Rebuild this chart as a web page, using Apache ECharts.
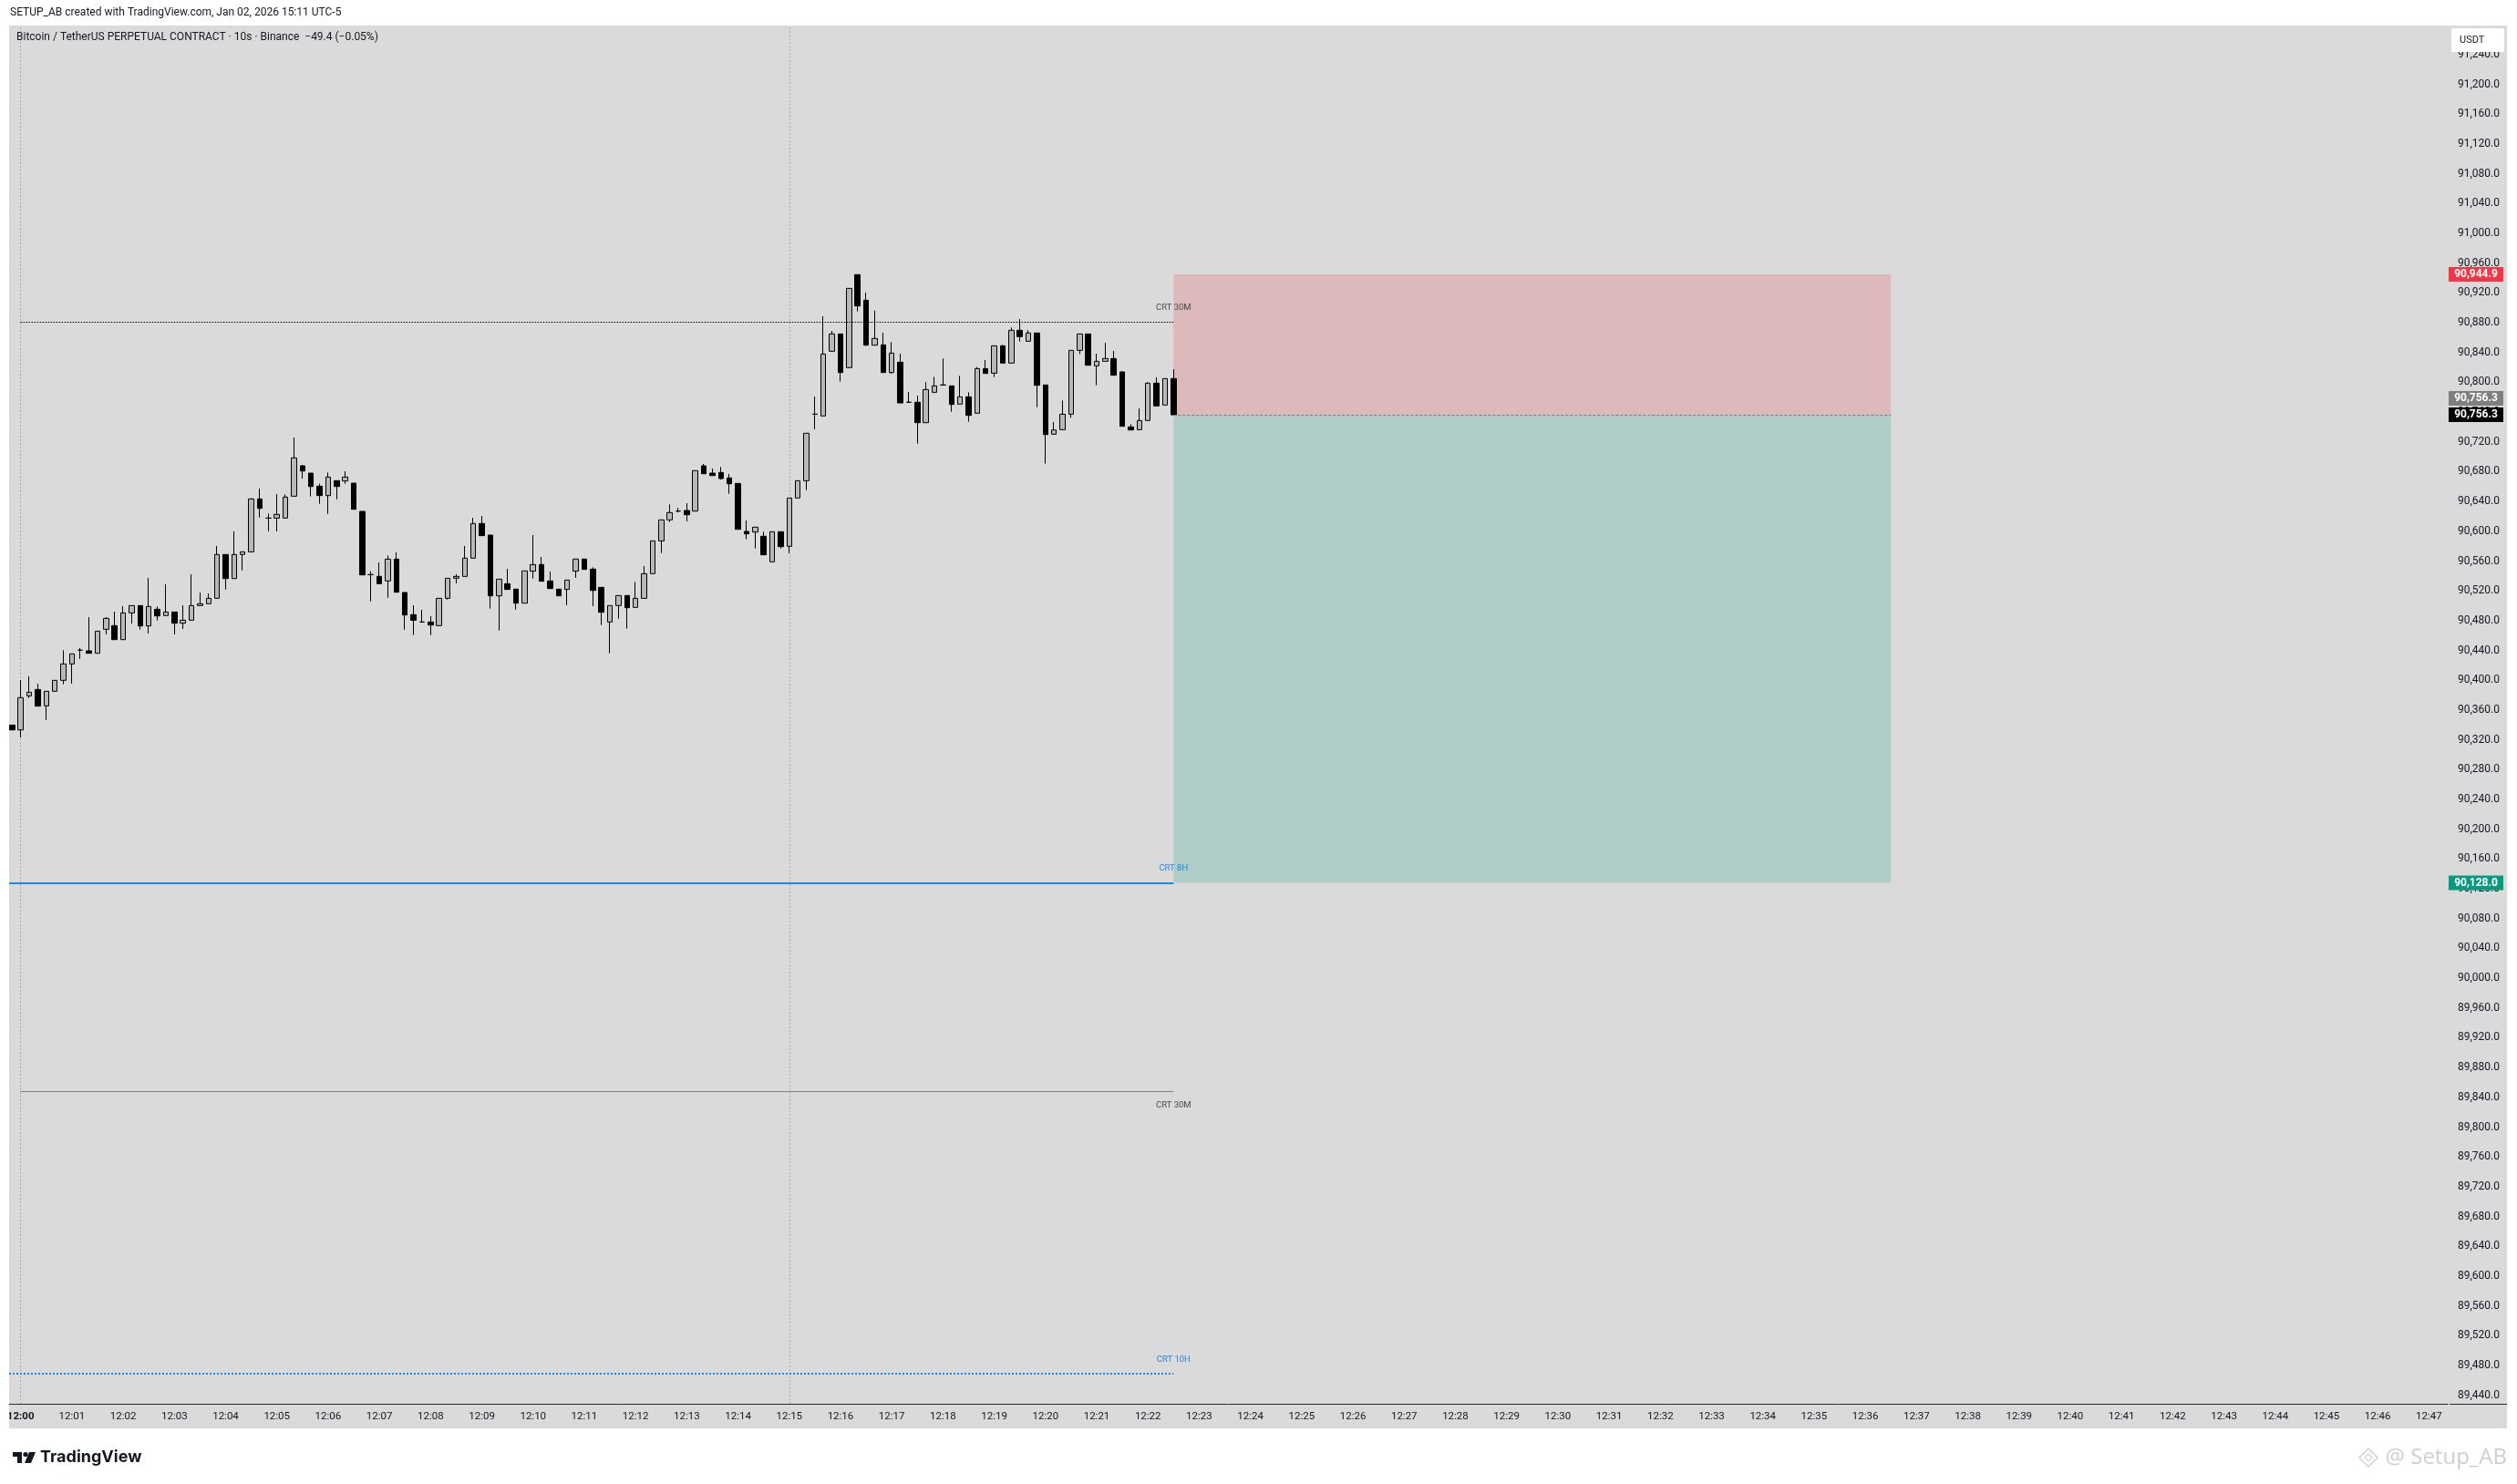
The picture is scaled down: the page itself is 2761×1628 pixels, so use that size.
<!DOCTYPE html>
<html><head><meta charset="utf-8">
<script src="https://cdn.jsdelivr.net/npm/echarts@6/dist/echarts.min.js"></script>
<style>html,body{margin:0;padding:0;background:#fff;overflow:hidden}#c{width:2761px;height:1628px}</style>
</head><body><div id="c"></div>
<script>
// ---- data (10-second candles, index 0 = 11:59:50) ----
const candleOpen = [90339.8,90333.3,90379.0,90387.6,90365.6,90385.2,90399.9,90421.9,90440.3,90439.5,
90436.2,90468.4,90473.3,90454.5,90490.4,90500.2,90472.9,90495.3,90486.8,90491.6,
90476.6,90480.6,90500.2,90502.7,90510.0,90568.8,90536.5,90568.8,90572.4,90643.4,
90617.7,90617.7,90617.7,90647.1,90687.9,90678.1,90660.5,90647.9,90667.9,90667.5,
90664.6,90626.7,90541.8,90539.4,90533.3,90562.6,90517.8,90488.0,90478.2,90478.2,
90473.3,90510.0,90537.0,90539.4,90563.9,90610.4,90594.9,90513.3,90529.6,90522.3,
90503.5,90546.4,90555.3,90533.3,90522.3,90521.9,90546.4,90562.7,90549.2,90524.7,
90478.2,90500.3,90513.7,90497.8,90510.0,90543.1,90587.1,90615.3,90627.1,90627.9,
90627.1,90687.9,90678.1,90678.9,90671.6,90664.2,90599.8,90599.0,90593.3,90559.0,
90599.4,90579.8,90644.7,90667.9,90757.2,90754.8,90841.7,90864.9,90819.7,90944.5,
90910.2,90849.8,90850.3,90813.1,90827.0,90773.2,90773.2,90745.8,90786.6,90796.4,
90795.2,90770.7,90780.5,90758.5,90818.4,90812.3,90849.0,90825.8,90869.8,90855.1,
90866.2,90796.4,90730.3,90736.4,90757.2,90842.9,90864.9,90822.1,90828.2,90831.9,
90814.0,90740.1,90736.4,90748.7,90798.9,90769.5,90805.0];
const candleClose = [90333.3,90376.6,90383.9,90365.2,90385.2,90399.9,90421.9,90435.4,90440.3,90436.2,
90465.9,90483.1,90454.5,90490.4,90500.2,90472.9,90499.0,90486.3,90491.6,90476.6,
90480.6,90500.2,90502.7,90510.0,90568.8,90536.5,90568.8,90572.4,90643.4,90630.8,
90617.7,90622.6,90645.9,90698.5,90680.9,90660.1,90647.9,90672.8,90660.1,90672.8,
90629.5,90541.4,90541.8,90529.6,90562.6,90518.2,90487.6,90480.6,90478.2,90474.1,
90510.0,90536.9,90539.4,90563.9,90610.4,90594.1,90513.3,90535.7,90521.9,90503.5,
90546.8,90555.3,90532.9,90523.1,90513.3,90534.5,90562.7,90548.8,90520.6,90491.3,
90500.3,90513.7,90497.4,90510.0,90543.1,90587.1,90615.3,90625.1,90627.1,90622.2,
90681.4,90677.3,90674.8,90670.8,90663.8,90602.6,90596.5,90605.5,90568.4,90599.4,
90579.4,90644.7,90667.9,90731.6,90757.2,90838.0,90864.9,90813.1,90926.1,90902.5,
90849.8,90858.8,90813.1,90839.2,90772.3,90773.2,90745.8,90790.3,90795.2,90796.4,
90770.3,90780.5,90755.6,90818.4,90811.9,90849.0,90825.8,90869.8,90861.3,90866.2,
90796.0,90729.9,90736.0,90757.2,90842.9,90864.9,90822.9,90828.2,90831.9,90809.5,
90740.9,90736.0,90748.7,90798.9,90768.3,90805.0,90756.3];
const candleLow = [90333.3,90323.2,90376.2,90365.2,90346.4,90385.2,90394.6,90395.4,90428.8,90436.2,
90436.2,90461.5,90454.5,90454.5,90476.1,90467.8,90462.7,90480.2,90486.8,90461.5,
90468.8,90480.6,90500.2,90502.7,90510.0,90521.8,90536.5,90547.5,90572.4,90618.5,
90599.8,90599.8,90617.7,90647.1,90670.7,90646.7,90636.9,90623.4,90643.0,90663.8,
90629.5,90541.4,90505.9,90529.6,90510.8,90518.2,90467.8,90460.7,90478.2,90460.7,
90473.3,90508.4,90530.0,90539.4,90563.9,90594.1,90496.2,90466.8,90521.9,90494.9,
90503.5,90536.6,90532.9,90523.1,90513.3,90500.7,90537.4,90548.8,90499.4,90474.1,
90436.2,90482.7,90469.3,90497.8,90510.0,90543.1,90570.8,90612.4,90625.5,90613.3,
90627.1,90677.3,90674.8,90669.5,90650.4,90602.6,90589.2,90576.9,90568.4,90559.0,
90576.9,90570.8,90644.7,90655.3,90736.9,90754.8,90841.7,90800.9,90819.7,90895.1,
90849.8,90849.8,90813.1,90811.5,90772.3,90773.2,90717.7,90745.8,90786.6,90796.4,
90760.5,90770.7,90747.1,90758.5,90811.9,90807.0,90825.8,90825.8,90854.7,90855.1,
90766.6,90690.7,90730.3,90736.4,90752.4,90838.0,90822.9,90796.0,90828.2,90809.5,
90740.9,90736.0,90736.4,90748.7,90768.3,90769.5,90756.3];
const candleHigh = [90339.8,90400.2,90405.2,90395.4,90385.2,90399.9,90440.3,90435.4,90443.1,90484.7,
90465.9,90484.7,90492.0,90499.4,90500.2,90500.2,90537.3,90499.0,90528.8,90491.6,
90500.6,90542.2,90517.8,90516.5,90580.2,90568.8,90599.8,90572.4,90644.2,90657.3,
90623.8,90649.9,90649.5,90725.8,90689.1,90678.1,90663.8,90678.9,90667.9,90680.5,
90664.6,90626.7,90546.3,90558.1,90567.5,90571.6,90517.8,90500.6,90494.5,90485.9,
90510.0,90536.9,90542.3,90580.2,90618.1,90620.6,90594.9,90535.7,90549.6,90522.3,
90546.8,90594.9,90565.5,90545.9,90522.3,90534.5,90562.7,90562.7,90551.7,90524.7,
90500.3,90513.7,90513.7,90532.1,90553.3,90587.1,90615.3,90636.1,90631.6,90637.7,
90681.4,90690.4,90684.2,90686.3,90676.9,90664.2,90614.5,90605.5,90599.4,90599.4,
90599.4,90644.7,90667.9,90731.6,90780.9,90888.6,90869.0,90864.9,90926.1,90944.9,
90920.4,90896.3,90866.6,90853.9,90838.4,90787.0,90782.1,90800.1,90807.4,90831.9,
90795.2,90808.6,90786.6,90820.5,90829.9,90849.0,90850.3,90873.5,90884.9,90869.8,
90866.2,90796.4,90746.6,90775.6,90842.9,90864.9,90864.9,90838.4,90853.1,90842.1,
90814.0,90743.8,90765.0,90800.1,90806.6,90805.0,90817.6];

const timeTickLabels = ['12:00','12:01','12:02','12:03','12:04','12:05','12:06','12:07','12:08','12:09',
'12:10','12:11','12:12','12:13','12:14','12:15','12:16','12:17','12:18','12:19','12:20','12:21','12:22',
'12:23','12:24','12:25','12:26','12:27','12:28','12:29','12:30','12:31','12:32','12:33','12:34','12:35',
'12:36','12:37','12:38','12:39','12:40','12:41','12:42','12:43','12:44','12:45','12:46','12:47'];
const priceTicks = [89440,89480,89520,89560,89600,89640,89680,89720,89760,89800,89840,89880,89920,89960,
90000,90040,90080,90120,90160,90200,90240,90280,90320,90360,90400,90440,90480,90520,90560,90600,90640,
90680,90720,90760,90800,90840,90880,90920,90960,91000,91040,91080,91120,91160,91200,91240];

const levelPrices = [90880.9, 90128.0, 89848.4, 89469.0];
const levelLabels = ['CRT 30M', 'CRT 8H', 'CRT 30M', 'CRT 10H'];
const levelStartIdx = [1, null, 1, null];   // null = from the left edge of the view
const sessionBreakIdx = [1, 91];            // 12:00 and 12:15
const stopPrice = 90944.9, entryPrice = 90756.3, targetPrice = 90128.0;
const positionStartIdx = 136, positionEndIdx = 220;
const lastPrice = 90756.3;

// ---- view ----
const X_MIN = -0.352, X_MAX = 285.2, Y_MIN = 89428.6, Y_MAX = 91279.0;
const FONT = 'Roboto, "Noto Sans", sans-serif';
const fmt = v => v.toLocaleString('en-US', {minimumFractionDigits: 1, maximumFractionDigits: 1});

const candles = candleOpen.map((o, i) => [i, o, candleClose[i], candleLow[i], candleHigh[i]]);
const tickIdx = timeTickLabels.map((_, k) => 1 + 6 * k);

const levelStyles = [
  {color: '#000000', type: [1.5, 1.5], width: 1, labelColor: '#4a4a4a', above: true},
  {color: '#1e88e5', type: 'solid', width: 2, labelColor: '#1e88e5', above: true},
  {color: '#808080', type: 'solid', width: 1, labelColor: '#4a4a4a', above: false},
  {color: '#1e88e5', type: [2, 2], width: 2, labelColor: '#1e88e5', above: true}
];

const levelLines = levelPrices.map((p, i) => [
  {coord: [levelStartIdx[i] == null ? X_MIN : levelStartIdx[i], p],
   lineStyle: {color: levelStyles[i].color, type: levelStyles[i].type, width: levelStyles[i].width}},
  {coord: [positionStartIdx, p]}
]);
levelLines.push([
  {coord: [positionStartIdx, entryPrice], lineStyle: {color: '#7d7d7d', type: [3, 2], width: 1}},
  {coord: [positionEndIdx, entryPrice]}
]);

const levelLabelPoints = levelPrices.map((p, i) => ({
  coord: [positionStartIdx, p],
  symbol: 'circle', symbolSize: 1, itemStyle: {color: 'rgba(0,0,0,0)'},
  label: {show: true, formatter: levelLabels[i], position: levelStyles[i].above ? 'top' : 'bottom',
          distance: 10, color: levelStyles[i].labelColor, fontSize: 9.5, fontFamily: FONT}
}));

const tagDefs = [
  {price: stopPrice, bg: '#f23645', shift: 0},
  {price: lastPrice, bg: '#7f7f7f', shift: -18},
  {price: lastPrice, bg: '#000000', shift: 0},
  {price: targetPrice, bg: '#089981', shift: 0}
];
const tagPoints = tagDefs.map(t => ({
  coord: [X_MAX, t.price],
  symbol: 'rect', symbolSize: [60, 16], symbolOffset: [31, t.shift],
  itemStyle: {color: t.bg},
  label: {show: true, position: 'inside', formatter: fmt(t.price), color: '#fff',
          fontWeight: 'bold', fontSize: 12, fontFamily: FONT}
}));

const chart = echarts.init(document.getElementById('c'), null, {renderer: 'canvas'});
chart.setOption({
  animation: false,
  backgroundColor: '#ffffff',
  grid: {left: 10, top: 28, width: 2675, height: 1512, containLabel: false},
  xAxis: {
    type: 'value', min: X_MIN, max: X_MAX,
    splitLine: {show: false}, axisTick: {show: false},
    axisLine: {show: true, lineStyle: {color: '#2a2a2a', width: 1}},
    axisLabel: {
      customValues: tickIdx, margin: 8, color: '#131722', fontSize: 11.5, fontFamily: FONT,
      formatter: v => { const k = Math.round((v - 1) / 6); return k === 0 ? '{b|' + timeTickLabels[k] + '}' : timeTickLabels[k]; },
      rich: {b: {fontWeight: 'bold', fontSize: 11.5, color: '#131722', fontFamily: FONT}}
    }
  },
  yAxis: {
    type: 'value', position: 'right', min: Y_MIN, max: Y_MAX,
    splitLine: {show: false}, axisTick: {show: false}, axisLine: {show: false},
    axisLabel: {customValues: priceTicks, formatter: v => fmt(v), align: 'right', margin: 57,
                color: '#131722', fontSize: 12, fontFamily: FONT}
  },
  graphic: [
    {type: 'rect', z: -10, shape: {x: 10, y: 28, width: 2740, height: 1539}, style: {fill: '#dadada'}},
    {type: 'rect', z: 20, shape: {x: 0, y: 1540.5, width: 10, height: 30}, style: {fill: '#ffffff'}},
    {type: 'text', z: 10, x: 11, y: 14, style: {text: 'SETUP_AB created with TradingView.com, Jan 02, 2026 15:11 UTC-5',
      fill: '#131722', font: '12px ' + FONT, verticalAlign: 'middle'}},
    {type: 'text', z: 10, x: 18, y: 41, style: {text: 'Bitcoin / TetherUS PERPETUAL CONTRACT · 10s · Binance  \u221249.4 (\u22120.05%)',
      fill: '#131722', font: '12px ' + FONT, verticalAlign: 'middle'}},
    {type: 'rect', z: 10, shape: {x: 2689, y: 31, width: 58, height: 26, r: 2}, style: {fill: '#ffffff'}},
    {type: 'text', z: 11, x: 2698, y: 44, style: {text: 'USDT', fill: '#131722', font: '11px ' + FONT, verticalAlign: 'middle'}},
    {type: 'line', z: 5, shape: {x1: 2687, y1: 1540.5, x2: 2750, y2: 1540.5}, style: {stroke: '#2a2a2a', lineWidth: 1}},
    // TradingView logo
    {type: 'rect', z: 10, shape: {x: 14, y: 1593, width: 10, height: 5}, style: {fill: '#131722'}},
    {type: 'rect', z: 10, shape: {x: 19, y: 1593, width: 5, height: 12}, style: {fill: '#131722'}},
    {type: 'circle', z: 10, shape: {cx: 28, cy: 1595.5, r: 2.6}, style: {fill: '#131722'}},
    {type: 'polygon', z: 10, shape: {points: [[32, 1593], [39, 1593], [34, 1605], [27, 1605]]}, style: {fill: '#131722'}},
    {type: 'text', z: 10, x: 44, y: 1599, style: {text: 'TradingView', fill: '#131722', font: 'bold 18px Inter, ' + FONT, verticalAlign: 'middle'}},
    // watermark
    {type: 'text', z: 10, x: 2750, y: 1599, style: {text: '@ Setup_AB', fill: '#cfcfcf', font: '24px "Open Sans", sans-serif',
      align: 'right', verticalAlign: 'middle'}},
    {type: 'polygon', z: 10, shape: {points: [[2598, 1589], [2608, 1599], [2598, 1609], [2588, 1599]]},
      style: {fill: 'none', stroke: '#d2d2d2', lineWidth: 1.5}},
    {type: 'polygon', z: 10, shape: {points: [[2598, 1595], [2602, 1599], [2598, 1603], [2594, 1599]]},
      style: {fill: 'none', stroke: '#d2d2d2', lineWidth: 1.2}}
  ],
  series: [
    {
      type: 'line', name: 'sessions', data: [], silent: true,
      markLine: {z: 1, silent: true, symbol: ['none', 'none'], label: {show: false},
        lineStyle: {color: '#ababab', type: [2, 2], width: 1},
        data: sessionBreakIdx.map(i => ({xAxis: i}))}
    },
    {
      type: 'candlestick', name: 'BTCUSDT.P', data: candles, barWidth: 6, z: 3,
      itemStyle: {color: '#b8b8b8', color0: '#000000', borderColor: '#000000', borderColor0: '#000000',
                  borderColorDoji: '#000000', borderWidth: 1},
      markArea: {z: 1, silent: true, data: [
        [{coord: [positionStartIdx, stopPrice], itemStyle: {color: 'rgba(242,54,69,0.2)'}}, {coord: [positionEndIdx, entryPrice]}],
        [{coord: [positionStartIdx, entryPrice], itemStyle: {color: 'rgba(8,153,129,0.2)'}}, {coord: [positionEndIdx, targetPrice]}]
      ]},
      markLine: {z: 5, silent: true, symbol: ['none', 'none'], label: {show: false}, data: levelLines}
    },
    {
      type: 'line', name: 'annotations', data: [], clip: false, silent: true, z: 6,
      markPoint: {z: 6, silent: true, data: levelLabelPoints.concat(tagPoints)}
    }
  ]
});
</script></body></html>
